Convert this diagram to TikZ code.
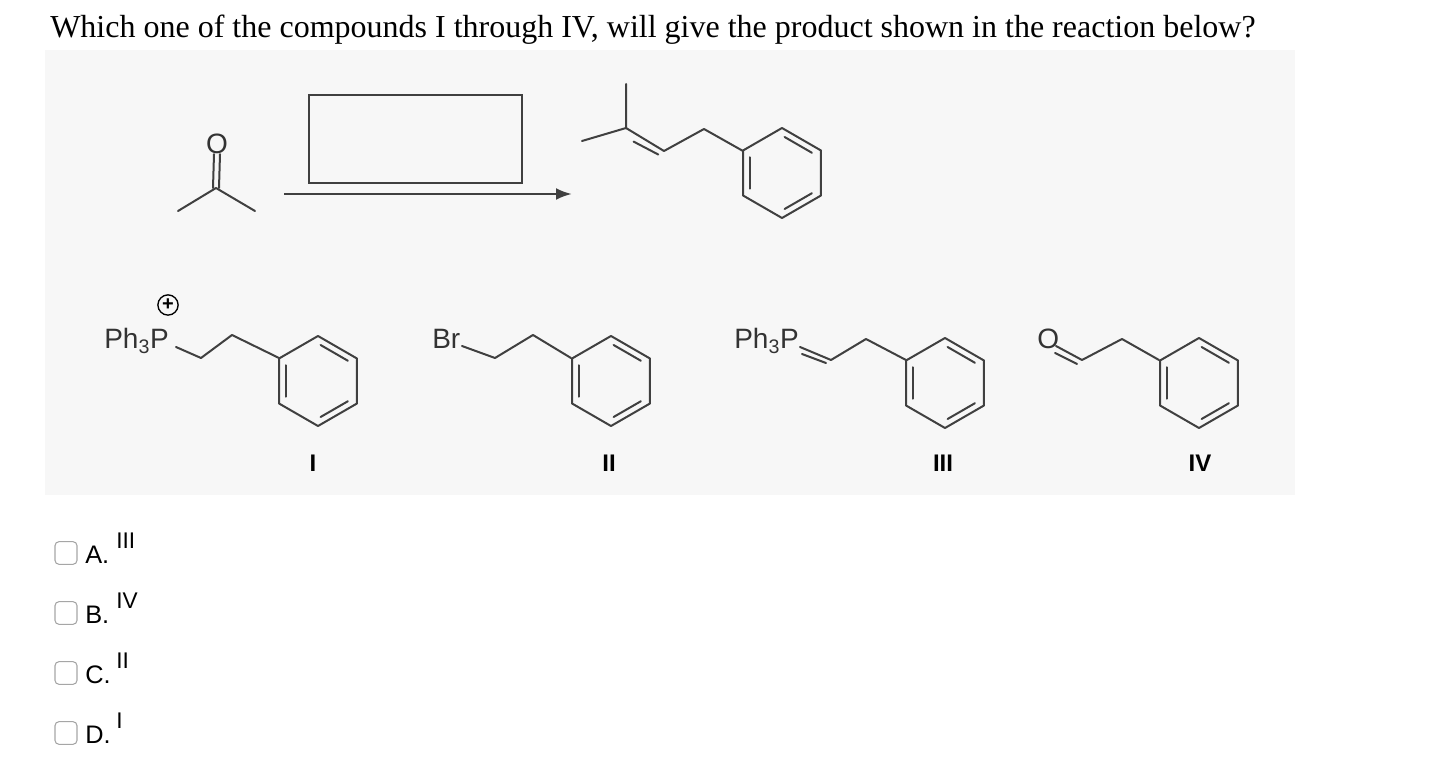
\documentclass[tikz,border=0pt]{standalone}
\usepackage{fontspec}
\setmainfont{Liberation Serif}
\setsansfont{Liberation Sans}
\usetikzlibrary{calc,arrows.meta}
\begin{document}
\begin{tikzpicture}[x=0.75pt,y=-0.75pt,
  bond/.style={line width=1.5pt,color=black!75,line cap=round,line join=round},
  lbl/.style={font=\sffamily\fontsize{21}{21}\selectfont,text=black!80,inner sep=0pt},
  rom/.style={font=\sffamily\bfseries\fontsize{18}{18}\selectfont,inner sep=0pt},
  opt/.style={font=\sffamily\fontsize{19}{19}\selectfont,inner sep=0pt,anchor=base west},
  sup/.style={font=\sffamily\fontsize{17}{17}\selectfont,inner sep=0pt,anchor=base west},
  cbox/.style={draw=black!35,line width=0.8pt,rounded corners=3pt,fill=white}]
\useasboundingbox (0,0) rectangle (1432,766);
\fill[white] (0,0) rectangle (1432,766);
\fill[black!3] (45,50) rectangle (1295,495);
\node[anchor=base west,inner sep=0pt,font=\fontsize{24}{24}\selectfont] (title) at (50,38) {Which one of the compounds I through IV, will give the product shown in the reaction below?};
\tikzset{benz/.pic={
  \draw[bond] (150:45) -- (90:45) -- (30:45) -- (-30:45) -- (-90:45) -- (-150:45) -- cycle;
  \draw[bond] ($(90:45)!0.15!(30:45)+(-120:6.5)$) -- ($(90:45)!0.85!(30:45)+(-120:6.5)$);
  \draw[bond] ($(-30:45)!0.15!(-90:45)+(120:6.5)$) -- ($(-30:45)!0.85!(-90:45)+(120:6.5)$);
  \draw[bond] ($(-150:45)!0.15!(150:45)+(0:6.5)$) -- ($(-150:45)!0.85!(150:45)+(0:6.5)$);
}}
% acetone
\node[lbl] (ox) at (217,144) {O};
\coordinate (ac) at (216,188);
\coordinate (al) at (178,211);
\coordinate (ar) at (255,211);
\draw[bond] (al) -- (ac) -- (ar);
\draw[bond] ($(ac)+(-3,0)$) -- ($(ox.south)+(-3,0)$);
\draw[bond] ($(ac)+(3,0)$) -- ($(ox.south)+(3,0)$);
% box and arrow
\node[draw,line width=1.8pt,color=black!75,minimum width=213*0.75pt,minimum height=88*0.75pt,inner sep=0pt] (box) at (415.5,139) {};
\coordinate (a1) at (284,194);
\coordinate (a2) at (572,194);
\draw[line width=2pt,black!75,-{Latex[length=12pt,width=9pt]}] (a1) -- (a2);
% product
\coordinate (pm) at (626,84); \coordinate (pc) at (626,128); \coordinate (pl) at (582,141);
\coordinate (pd) at (664,151); \coordinate (pe) at (704,129); \coordinate (pi) at (743,151);
\draw[bond] (pm) -- (pc) -- (pl);
\draw[bond] (pc) -- (pd) -- (pe) -- (pi);
\draw[bond] ($(pc)!0.2!(pd)+(0,9)$) -- ($(pc)!0.85!(pd)+(0,7)$);
\pic at (782,173) {benz};
% I
\node[lbl,anchor=base west] (p1) at (104,349) {Ph\textsubscript{3}P};
\node[draw,circle,line width=1pt,inner sep=1pt,font=\sffamily\bfseries\fontsize{15}{15}\selectfont] (plus) at (168,305) {+};
\coordinate (c11) at (201,358); \coordinate (c12) at (232,335); \coordinate (c13) at (279,358);
\draw[bond] (176,347) -- (c11) -- (c12) -- (c13);
\pic at (318,381) {benz};
\node[rom] (r1) at (313,463) {I};
% II
\node[lbl,anchor=base west] (br) at (432,349) {Br};
\coordinate (c21) at (495,358); \coordinate (c22) at (533,335); \coordinate (c23) at (571,358);
\draw[bond] (462,346) -- (c21) -- (c22) -- (c23);
\pic at (611,381) {benz};
\node[rom] (r2) at (609,463) {II};
% III
\node[lbl,anchor=base west] (p3) at (734,349) {Ph\textsubscript{3}P};
\coordinate (c31) at (831,360); \coordinate (c32) at (866,339); \coordinate (c33) at (906,360);
\draw[bond] (800,347) -- (c31) -- (c32) -- (c33);
\draw[bond] (802,354) -- (826,363);
\pic at (945,383) {benz};
\node[rom] (r3) at (943,463) {III};
% IV
\node[lbl,anchor=base west] (o4) at (1037,349) {O};
\coordinate (c41) at (1082,360); \coordinate (c42) at (1122,339); \coordinate (c43) at (1159,360);
\draw[bond] (1056,346) -- (c41) -- (c42) -- (c43);
\draw[bond] (1055,353) -- (1077,364);
\pic at (1199,383) {benz};
\node[rom] (r4) at (1200,463) {IV};
% options
\foreach \y/\L/\S/\n in {553/A./III/a,613/B./IV/b,673/C./II/c,733/D./I/d}{
  \node[cbox,minimum width=16.5pt,minimum height=17pt,inner sep=0pt] (box\n) at (66,\y) {};
  \node[opt] (lab\n) at (85,\y+10) {\L};
  \node[sup] (sup\n) at (116,\y-5) {\S};
}
\end{tikzpicture}
\end{document}
